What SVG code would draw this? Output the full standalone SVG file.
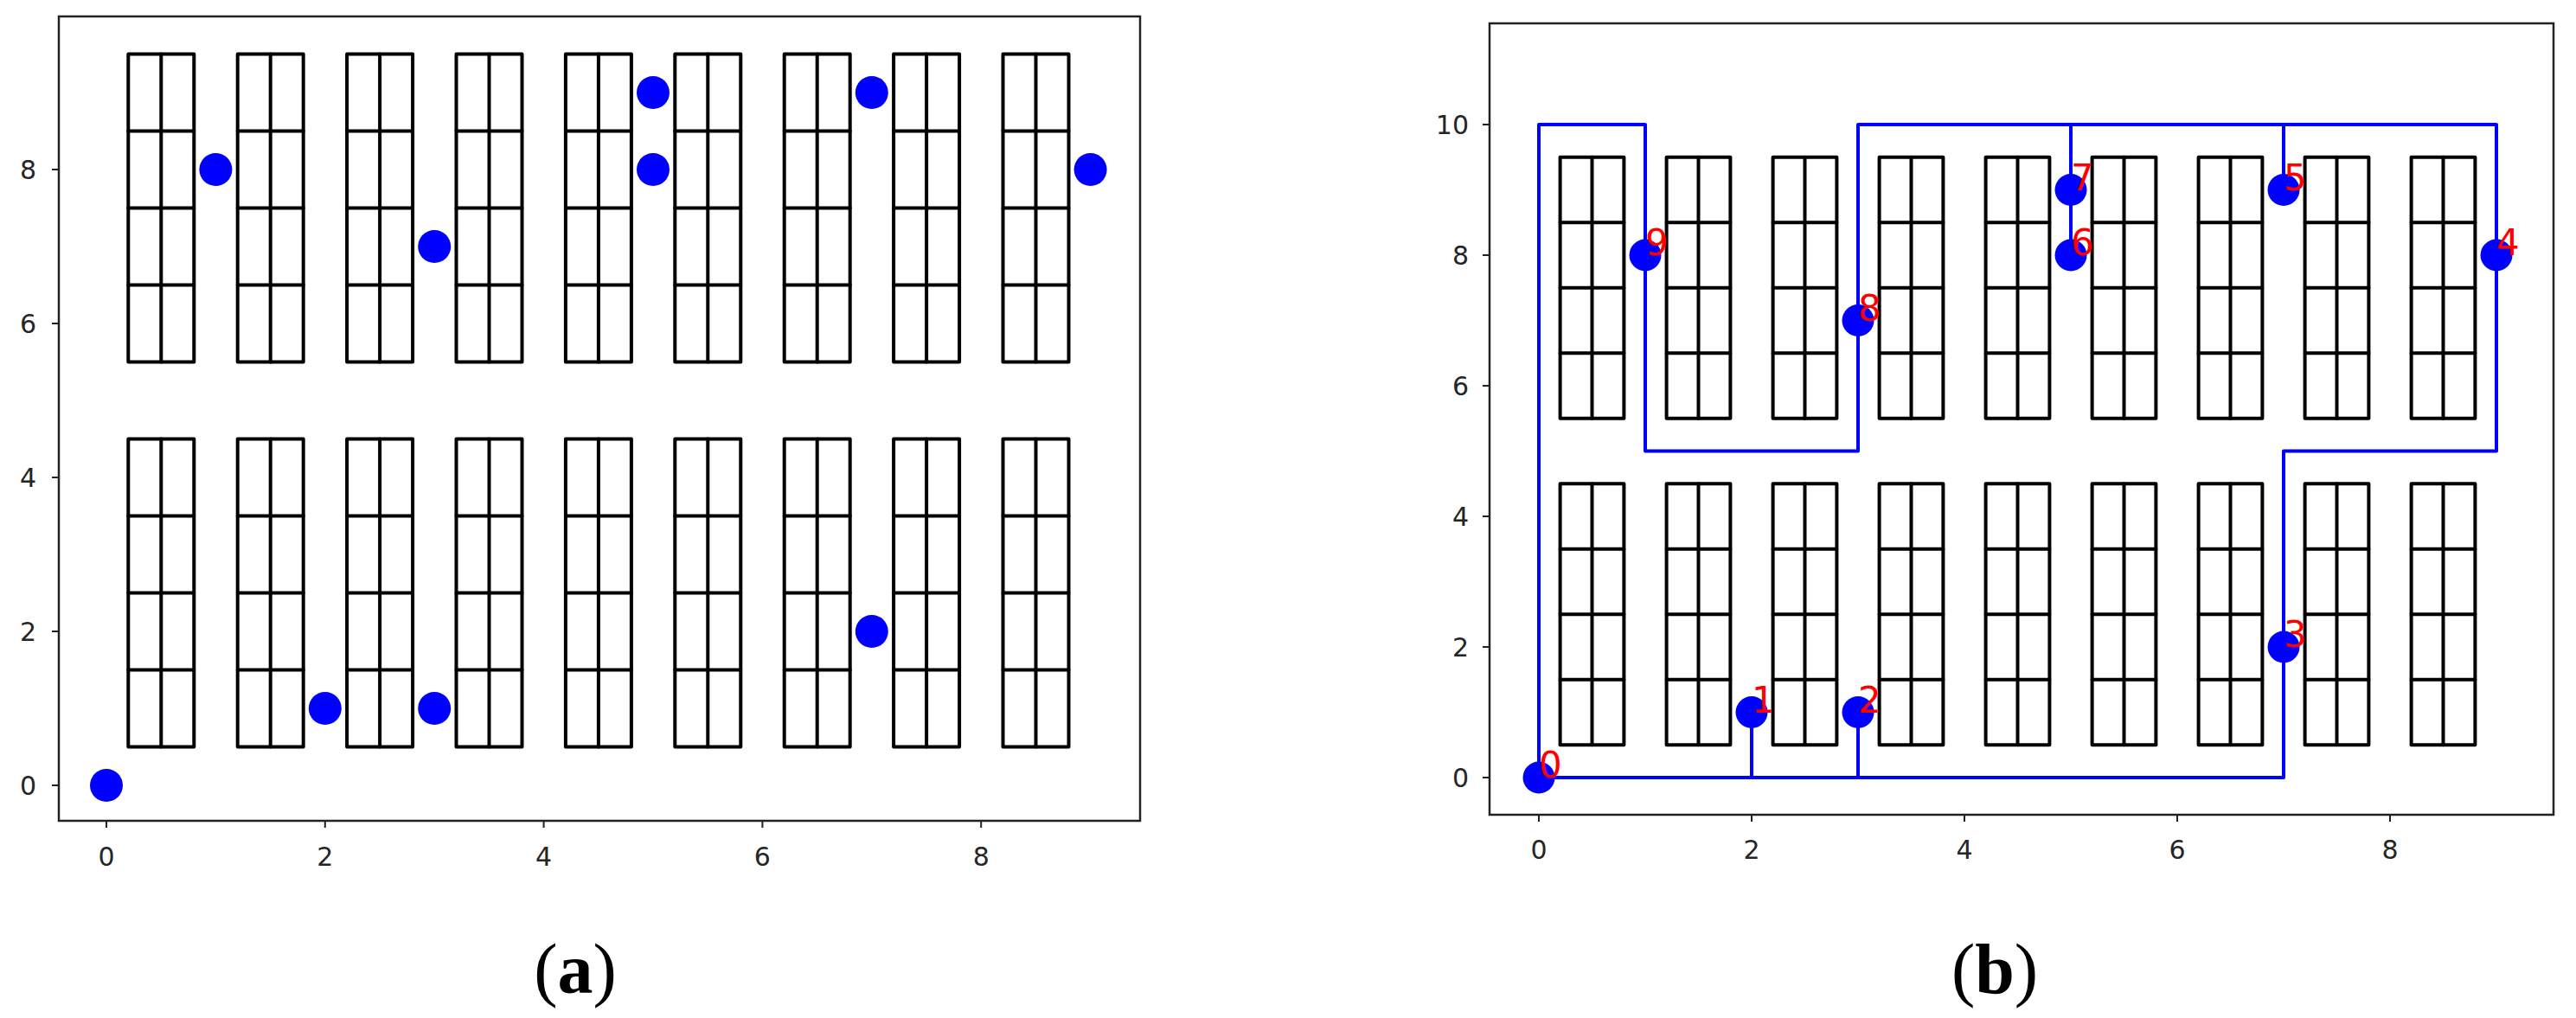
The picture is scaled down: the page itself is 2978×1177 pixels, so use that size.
<svg xmlns="http://www.w3.org/2000/svg" xmlns:xlink="http://www.w3.org/1999/xlink" width="2978" height="1177" viewBox="0 0 2978 1177">
<style>
.rk{fill:none;stroke:#000;stroke-width:4;stroke-linejoin:round;stroke-linecap:round}
.fr{fill:none;stroke:#222;stroke-width:2.5}
.tk{stroke:#222;stroke-width:2}
.tl{font-family:"DejaVu Sans",sans-serif;font-size:30px;fill:#262626}
.dot{fill:#0000ff}
.route{fill:none;stroke:#0000ff;stroke-width:4;stroke-linejoin:round}
.lab{font-family:"DejaVu Sans",sans-serif;font-size:42px;fill:#ff0000}
.cap{font-family:"Liberation Serif",serif;font-size:82px;fill:#000}
</style>
<defs>
<g id="rackL" class="rk"><rect x="0" y="0" width="76" height="356"/><path d="M38 0V356M0 89H76M0 178H76M0 267H76"/></g>
<g id="rackR" class="rk"><rect x="0" y="0" width="73.8" height="302"/><path d="M36.9 0V302M0 75.5H73.8M0 151H73.8M0 226.5H73.8"/></g>
</defs>
<rect width="2978" height="1177" fill="#fff"/>
<g id="plotA">
<rect class="fr" x="68" y="19" width="1250" height="930"/>
<g class="tk"><path d="M123 949v8M375.8 949v8M628.6 949v8M881.4 949v8M1134.2 949v8M68 908h-8M68 730h-8M68 552h-8M68 374h-8M68 196h-8"/></g>
<g class="tl" text-anchor="middle"><text x="123" y="1001">0</text><text x="375.8" y="1001">2</text><text x="628.6" y="1001">4</text><text x="881.4" y="1001">6</text><text x="1134.2" y="1001">8</text></g>
<g class="tl" text-anchor="end"><text x="42" y="919">0</text><text x="42" y="741">2</text><text x="42" y="563">4</text><text x="42" y="385">6</text><text x="42" y="207">8</text></g>
<g id="racksA">
<use xlink:href="#rackL" x="148.3" y="62.5"/><use xlink:href="#rackL" x="274.7" y="62.5"/><use xlink:href="#rackL" x="401.1" y="62.5"/><use xlink:href="#rackL" x="527.5" y="62.5"/><use xlink:href="#rackL" x="653.9" y="62.5"/><use xlink:href="#rackL" x="780.3" y="62.5"/><use xlink:href="#rackL" x="906.7" y="62.5"/><use xlink:href="#rackL" x="1033.1" y="62.5"/><use xlink:href="#rackL" x="1159.5" y="62.5"/>
<use xlink:href="#rackL" x="148.3" y="507.5"/><use xlink:href="#rackL" x="274.7" y="507.5"/><use xlink:href="#rackL" x="401.1" y="507.5"/><use xlink:href="#rackL" x="527.5" y="507.5"/><use xlink:href="#rackL" x="653.9" y="507.5"/><use xlink:href="#rackL" x="780.3" y="507.5"/><use xlink:href="#rackL" x="906.7" y="507.5"/><use xlink:href="#rackL" x="1033.1" y="507.5"/><use xlink:href="#rackL" x="1159.5" y="507.5"/>
</g>
<g id="pointsA" class="dot">
<circle cx="123" cy="908" r="19"/><circle cx="249.4" cy="196" r="19"/><circle cx="375.8" cy="819" r="19"/><circle cx="502.2" cy="819" r="19"/><circle cx="502.2" cy="285" r="19"/><circle cx="755" cy="107" r="19"/><circle cx="755" cy="196" r="19"/><circle cx="1007.8" cy="107" r="19"/><circle cx="1007.8" cy="730" r="19"/><circle cx="1260.6" cy="196" r="19"/>
</g>
<text class="cap" x="665" y="1148" text-anchor="middle">(<tspan font-weight="bold">a</tspan>)</text>
</g>
<g id="plotB">
<rect class="fr" x="1722" y="27" width="1230" height="915"/>
<g class="tk"><path d="M1779 942v8M2025 942v8M2271 942v8M2517 942v8M2763 942v8M1722 899h-8M1722 748h-8M1722 597h-8M1722 446h-8M1722 295h-8M1722 144h-8"/></g>
<g class="tl" text-anchor="middle"><text x="1779" y="993">0</text><text x="2025" y="993">2</text><text x="2271" y="993">4</text><text x="2517" y="993">6</text><text x="2763" y="993">8</text></g>
<g class="tl" text-anchor="end"><text x="1698" y="910">0</text><text x="1698" y="759">2</text><text x="1698" y="608">4</text><text x="1698" y="457">6</text><text x="1698" y="306">8</text><text x="1698" y="155">10</text></g>
<g id="racksB">
<use xlink:href="#rackR" x="1803.6" y="181.75"/><use xlink:href="#rackR" x="1926.6" y="181.75"/><use xlink:href="#rackR" x="2049.6" y="181.75"/><use xlink:href="#rackR" x="2172.6" y="181.75"/><use xlink:href="#rackR" x="2295.6" y="181.75"/><use xlink:href="#rackR" x="2418.6" y="181.75"/><use xlink:href="#rackR" x="2541.6" y="181.75"/><use xlink:href="#rackR" x="2664.6" y="181.75"/><use xlink:href="#rackR" x="2787.6" y="181.75"/>
<use xlink:href="#rackR" x="1803.6" y="559.25"/><use xlink:href="#rackR" x="1926.6" y="559.25"/><use xlink:href="#rackR" x="2049.6" y="559.25"/><use xlink:href="#rackR" x="2172.6" y="559.25"/><use xlink:href="#rackR" x="2295.6" y="559.25"/><use xlink:href="#rackR" x="2418.6" y="559.25"/><use xlink:href="#rackR" x="2541.6" y="559.25"/><use xlink:href="#rackR" x="2664.6" y="559.25"/><use xlink:href="#rackR" x="2787.6" y="559.25"/>
</g>
<g id="connectors" class="route">
<path d="M1779 899V144H1902V521.5H2148V144H2886V521.5H2640V899Z"/>
<path d="M2394 144V295M2640 144V219.5M2025 899V823.5M2148 899V823.5"/>
</g>
<g id="pointsB" class="dot">
<circle id="n0" cx="1779" cy="899" r="18.5"/><circle id="n1" cx="2025" cy="823.5" r="18.5"/><circle id="n2" cx="2148" cy="823.5" r="18.5"/><circle id="n3" cx="2640" cy="748" r="18.5"/><circle id="n4" cx="2886" cy="295" r="18.5"/><circle id="n5" cx="2640" cy="219.5" r="18.5"/><circle id="n6" cx="2394" cy="295" r="18.5"/><circle id="n7" cx="2394" cy="219.5" r="18.5"/><circle id="n8" cx="2148" cy="370.5" r="18.5"/><circle id="n9" cx="1902" cy="295" r="18.5"/>
</g>
<g class="lab">
<text x="1779" y="899">0</text><text x="2025" y="823.5">1</text><text x="2148" y="823.5">2</text><text x="2640" y="748">3</text><text x="2886" y="295">4</text><text x="2640" y="219.5">5</text><text x="2394" y="295">6</text><text x="2394" y="219.5">7</text><text x="2148" y="370.5">8</text><text x="1902" y="295">9</text>
</g>
<text class="cap" x="2306" y="1148" text-anchor="middle">(<tspan font-weight="bold">b</tspan>)</text>
</g>
</svg>
